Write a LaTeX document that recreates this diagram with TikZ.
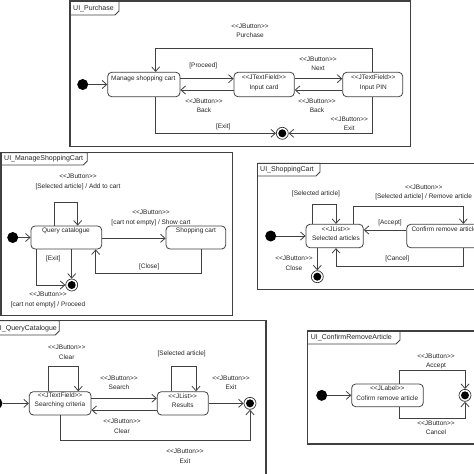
\documentclass[tikz,border=0pt]{standalone}
\usepackage{fontspec}
\setmainfont{Liberation Sans}
\usetikzlibrary{arrows.meta}
\newcommand\stq[1]{<\kern0pt<#1>\kern0pt>}
\begin{document}
\begin{tikzpicture}[x=1pt,y=-1pt,
 font=\fontsize{6.5}{9.5}\selectfont, text=black!85,
 state/.style={draw=black!75, line width=0.8pt, rounded corners=4pt, inner sep=0pt},
 init/.style={circle, fill=black, inner sep=0pt, minimum size=11pt},
 fin/.style={circle, draw=black!80, line width=0.7pt, inner sep=0pt, minimum size=12pt,
   path picture={\fill[black] (path picture bounding box.center) circle (4pt);}},
 tr/.style={draw=black!75, line width=0.8pt, -{Straight Barb[length=4.5pt,width=8pt]}},
 lbl/.style={align=center, inner sep=0pt},
 frm/.style={draw=black!75, line width=1.2pt},
 tagbox/.style={draw=black!75, line width=0.8pt},
 tagtxt/.style={inner sep=0pt, font=\fontsize{7}{8}\selectfont}]
\useasboundingbox (0,0) rectangle (474,474);
\clip (0,0) rectangle (474,474);

% ---------- Frame 1: UI_Purchase ----------
\draw[frm] (70,1) rectangle (410.7,146.7);
\draw[tagbox] (70,1) -- (119,1) -- (119,11) -- (115,15) -- (70,15);
\node[tagtxt, anchor=west] (t1) at (73,8.5) {UI\_Purchase};

\node[init] (i1) at (82.7,84.5) {};
\node[state, minimum width=72.3pt, minimum height=24.4pt] (msc) at (143.85,84.5) {};
\node[state, minimum width=60.3pt, minimum height=24.4pt] (card) at (264.15,84.5) {};
\node[state, minimum width=60pt, minimum height=24.4pt] (pin) at (372.7,84.5) {};
\node[fin] (f1) at (282.3,133.3) {};
\node[lbl] (msct) at (143.3,78.7) {Manage shopping cart};
\node[lbl] (cardt) at (264,82.6) {\stq{JTextField}\\Input card};
\node[lbl] (pint) at (373.3,82.6) {\stq{JTextField}\\Input PIN};

\draw[tr] (i1) -- (msc.west);
\draw[tr] (msc.east |- 0,78.7) -- (card.west |- 0,78.7);
\draw[tr] (card.west |- 0,90) -- (msc.east |- 0,90);
\draw[tr] (card.east |- 0,78.7) -- (pin.west |- 0,78.7);
\draw[tr] (pin.west |- 0,90) -- (card.east |- 0,90);
\draw[tr] (pin.north -| 372.7,0) -- (372.7,48.3) -| (msc.north -| 155.7,0);
\draw[tr] (pin.south -| 372.7,0) |- (f1.east);
\draw[tr] (msc.south -| 155.7,0) |- (f1.west);

\node[lbl] (l11) at (250,31) {\stq{JButton}\\Purchase};
\node[lbl] (l12) at (203.3,65.7) {[Proceed]};
\node[lbl] (l13) at (318,64) {\stq{JButton}\\Next};
\node[lbl] (l14) at (204,105.8) {\stq{JButton}\\Back};
\node[lbl] (l15) at (317,105.8) {\stq{JButton}\\Back};
\node[lbl] (l16) at (349.3,123.8) {\stq{JButton}\\Exit};
\node[lbl] (l17) at (223.3,127.3) {[Exit]};

% ---------- Frame 2: UI_ManageShoppingCart ----------
\draw[frm] (1,152.7) rectangle (232.3,315.7);
\draw[tagbox] (1,152.7) -- (87.3,152.7) -- (87.3,161) -- (83.3,165) -- (1,165);
\node[tagtxt, anchor=west] (t2) at (4,159) {UI\_ManageShoppingCart};

\node[init] (i2) at (12.7,237.5) {};
\node[state, minimum width=70.7pt, minimum height=23pt] (qc) at (66.35,237.5) {};
\node[state, minimum width=59.7pt, minimum height=23pt] (sc) at (195.85,237.5) {};
\node[fin] (f2) at (71.7,285) {};
\node[lbl] (qct) at (66,231) {Query catalogue};
\node[lbl] (sct) at (196,231) {Shopping cart};

\draw[tr] (i2) -- (qc.west);
\draw[tr] (qc.north -| 54.3,0) -- (54.3,202.7) -| (qc.north -| 77.7,0);
\draw[tr] (qc.east |- 0,238.3) -- (sc.west |- 0,238.3);
\draw[tr] (sc.south -| 201.7,0) -- (201.7,273.3) -| (qc.south -| 95.7,0);
\draw[tr] (qc.south -| f2) -- (f2.north);
\draw[tr] (qc.south -| 36,0) |- (f2.west);

\node[lbl] (l21) at (78,181.8) {\stq{JButton}\\{[}Selected article{]} / Add to cart};
\node[lbl] (l22) at (151,217.7) {\stq{JButton}\\{[}cart not empty{]} / Show cart};
\node[lbl] (l23) at (149.3,266.7) {[Close]};
\node[lbl] (l24) at (53.3,259.3) {[Exit]};
\node[lbl] (l25) at (48,300) {\stq{JButton}\\{[}cart not empty{]} / Proceed};

% ---------- Frame 3: UI_ShoppingCart ----------
\draw[frm] (257.3,163.3) rectangle (490,289.3);
\draw[tagbox] (257.3,163.3) -- (320,163.3) -- (320,172) -- (316,176) -- (257.3,176);
\node[tagtxt, anchor=west] (t3) at (260,170) {UI\_ShoppingCart};

\node[init] (i3) at (270.7,236) {};
\node[state, minimum width=57.3pt, minimum height=23.4pt] (sa) at (334.65,236) {};
\node[state, minimum width=74.3pt, minimum height=23.4pt] (cra) at (443.85,236) {};
\node[fin] (f3) at (317.3,276.7) {};
\node[lbl] (sat) at (336,233.8) {\stq{JList}\\Selected articles};
\node[lbl, anchor=west] (crat) at (411.3,229.3) {Confirm remove article};

\draw[tr] (i3) -- (sa.west);
\draw[tr] (sa.north -| 312.3,0) -- (312.3,204.3) -| (sa.north -| 336,0);
\draw[tr] (sa.north -| 353.3,0) -- (353.3,206.7) -| (cra.north -| 463.3,0);
\draw[tr] (cra.west |- 0,230) -- (sa.east |- 0,230);
\draw[tr] (cra.south -| 463.3,0) -- (463.3,266) -| (sa.south -| 336,0);
\draw[tr] (sa.south -| f3) -- (f3.north);

\node[lbl] (l31) at (316,193.7) {[Selected article]};
\node[lbl] (l32) at (423.7,192.2) {\stq{JButton}\\{[}Selected article{]} / Remove article};
\node[lbl] (l33) at (390,222.7) {[Accept]};
\node[lbl] (l34) at (397.3,258.7) {[Cancel]};
\node[lbl] (l35) at (294,263.2) {\stq{JButton}\\Close};

% ---------- Frame 4: UI_QueryCatalogue ----------
\draw[frm] (-10,320.7) rectangle (266,490);
\draw[tagbox] (-10,320.7) -- (59.3,320.7) -- (59.3,331) -- (55.3,335) -- (-10,335);
\node[tagtxt, anchor=east] (t4) at (57,328.5) {UI\_QueryCatalogue};

\node[init] (i4) at (-3,403.35) {};
\node[state, minimum width=61.7pt, minimum height=23.3pt] (scr) at (60.15,403.35) {};
\node[state, minimum width=51pt, minimum height=23.3pt] (res) at (182.8,403.35) {};
\node[fin] (f4) at (250,403.35) {};
\node[lbl] (scrt) at (60,400.5) {\stq{JTextField}\\Searching criteria};
\node[lbl] (rest) at (182.7,400.8) {\stq{JList}\\Results};

\draw[tr] (i4) -- (scr.west);
\draw[tr] (scr.north -| 48.3,0) -- (48.3,366.7) -| (scr.north -| 78.3,0);
\draw[tr] (scr.east |- 0,398.3) -- (res.west |- 0,398.3);
\draw[tr] (res.west |- 0,410) -- (scr.east |- 0,410);
\draw[tr] (res.north -| 171,0) -- (171,366.7) -| (res.north -| 196,0);
\draw[tr] (res.east) -- (f4.west);
\draw[tr] (scr.south -| 60,0) -- (60,440.7) -| (f4.south);

\node[lbl] (l41) at (66.7,352.3) {\stq{JButton}\\Clear};
\node[lbl] (l42) at (119,382.7) {\stq{JButton}\\Search};
\node[lbl] (l43) at (122,426.3) {\stq{JButton}\\Clear};
\node[lbl] (l44) at (181.7,354) {[Selected article]};
\node[lbl] (l45) at (231,382.7) {\stq{JButton}\\Exit};
\node[lbl] (l46) at (185,456.3) {\stq{JButton}\\Exit};

% ---------- Frame 5: UI_ConfirmRemoveArticle ----------
\draw[frm] (307.7,331) rectangle (490,444);
\draw[tagbox] (307.7,331) -- (400,331) -- (400,340) -- (396,344) -- (307.7,344);
\node[tagtxt, anchor=west] (t5) at (310.7,337.5) {UI\_ConfirmRemoveArticle};

\node[init] (i5) at (321.7,395.35) {};
\node[state, minimum width=71.6pt, minimum height=22.7pt] (cra2) at (387.5,395.35) {};
\node[fin] (f5) at (465,395.35) {};
\node[lbl] (cra2t) at (387.3,393.3) {\stq{JLabel}\\Cofirm remove article};

\draw[tr] (i5) -- (cra2.west);
\draw[tr] (cra2.north -| 399.3,0) -- (399.3,370) -| (f5.north);
\draw[tr] (cra2.south -| 399.3,0) -- (399.3,418.3) -| (f5.south);

\node[lbl] (l51) at (436,361.3) {\stq{JButton}\\Accept};
\node[lbl] (l52) at (436,428) {\stq{JButton}\\Cancel};
\end{tikzpicture}
\end{document}
